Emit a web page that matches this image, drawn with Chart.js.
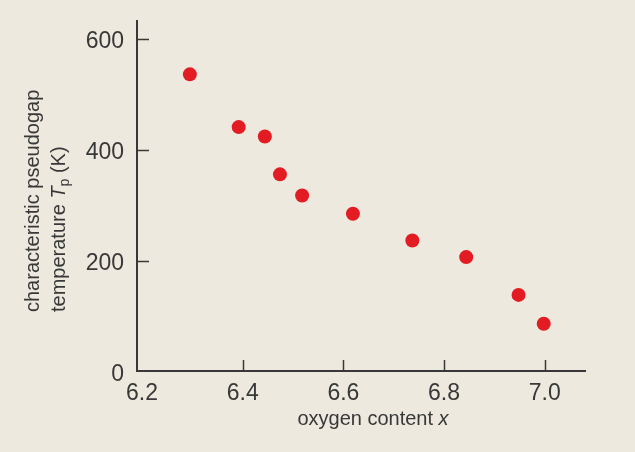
<!DOCTYPE html>
<html>
<head>
<meta charset="utf-8">
<script src="https://cdn.jsdelivr.net/npm/chart.js@4"></script>
<style>
  html, body { margin: 0; padding: 0; background: #ede9de; }
  #wrap { width: 635px; height: 452px; }
</style>
</head>
<body>
<div id="wrap"><canvas id="chart" width="635" height="452"></canvas></div>
<script>
const oxygen = [6.295, 6.392, 6.444, 6.474, 6.518, 6.619, 6.737, 6.844, 6.948, 6.998];
const pseudogapT = [536, 441, 424, 356, 318, 285, 237, 207, 139, 87];
const xTicks = [6.2, 6.4, 6.6, 6.8, 7.0];
const yTicks = [0, 200, 400, 600];

const FONT = "'Liberation Sans', Arial, sans-serif";
const INK = "#383838";

// inward tick marks + axis titles (italic / subscript parts)
const decor = {
    id: "decor",
    afterDraw(chart) {
        const ctx = chart.ctx;
        const xs = chart.scales.x, ys = chart.scales.y;
        const area = chart.chartArea;
        ctx.save();
        ctx.strokeStyle = INK;
        ctx.lineWidth = 1.5;
        xTicks.slice(1).forEach(v => {
            const px = Math.round(xs.getPixelForValue(v)) + 0.5;
            ctx.beginPath();
            ctx.moveTo(px, area.bottom);
            ctx.lineTo(px, area.bottom - 11);
            ctx.stroke();
        });
        yTicks.slice(1).forEach(v => {
            const py = Math.round(ys.getPixelForValue(v)) + 0.5;
            ctx.beginPath();
            ctx.moveTo(area.left, py);
            ctx.lineTo(area.left + 12, py);
            ctx.stroke();
        });

        ctx.fillStyle = INK;
        ctx.textBaseline = "alphabetic";
        ctx.textAlign = "left";
        const normal = "20px " + FONT, italic = "italic 20px " + FONT, sub = "14px " + FONT;

        // x title
        ctx.font = normal;
        const a = "oxygen content ";
        const wa = ctx.measureText(a).width;
        ctx.font = italic;
        const wb = ctx.measureText("x").width;
        const sx = 373 - (wa + wb) / 2;
        ctx.font = normal;
        ctx.fillText(a, sx, 425);
        ctx.font = italic;
        ctx.fillText("x", sx + wa, 425);

        // y title, rotated, both lines start at the same point
        ctx.save();
        ctx.translate(0, 312);
        ctx.rotate(-Math.PI / 2);
        ctx.font = normal;
        ctx.fillText("characteristic pseudogap", 0, 39);
        let cx = 0;
        ctx.fillText("temperature ", cx, 65);
        cx += ctx.measureText("temperature ").width;
        ctx.font = italic;
        ctx.fillText("T", cx, 65);
        cx += ctx.measureText("T").width;
        ctx.font = sub;
        ctx.fillText("p", cx, 69);
        cx += ctx.measureText("p").width;
        ctx.font = normal;
        ctx.fillText(" (K)", cx, 65);
        ctx.restore();
        ctx.restore();
    }
};

new Chart(document.getElementById("chart"), {
    type: "scatter",
    data: {
        datasets: [{
            label: "Tp",
            data: oxygen.map((x, i) => ({ x: x, y: pseudogapT[i] })),
            backgroundColor: "#e31b23",
            borderColor: "#e31b23",
            borderWidth: 0,
            pointRadius: 7,
            pointHoverRadius: 7
        }]
    },
    options: {
        responsive: false,
        animation: false,
        events: [],
        layout: { padding: { top: 21, right: 50, left: 0, bottom: 0 } },
        plugins: { legend: { display: false }, tooltip: { enabled: false } },
        scales: {
            x: {
                type: "linear",
                min: 6.19,
                max: 7.08,
                afterBuildTicks: s => { s.ticks = xTicks.map(v => ({ value: v })); },
                afterFit: s => { s.height = 81; s.paddingLeft = 0; s.paddingRight = 0; },
                grid: { display: false, drawTicks: false },
                border: { display: true, color: INK, width: 2 },
                ticks: {
                    color: INK,
                    padding: 9,
                    font: { family: FONT, size: 23 },
                    callback: v => v.toFixed(1)
                }
            },
            y: {
                min: 2,
                max: 632,
                afterBuildTicks: s => { s.ticks = yTicks.map(v => ({ value: v })); },
                afterFit: s => { s.width = 137; s.paddingTop = 0; s.paddingBottom = 0; },
                grid: { display: false, drawTicks: false },
                border: { display: true, color: INK, width: 2 },
                ticks: {
                    color: INK,
                    padding: 13,
                    labelOffset: 3,
                    font: { family: FONT, size: 23 }
                }
            }
        }
    },
    plugins: [decor]
});
</script>
</body>
</html>
